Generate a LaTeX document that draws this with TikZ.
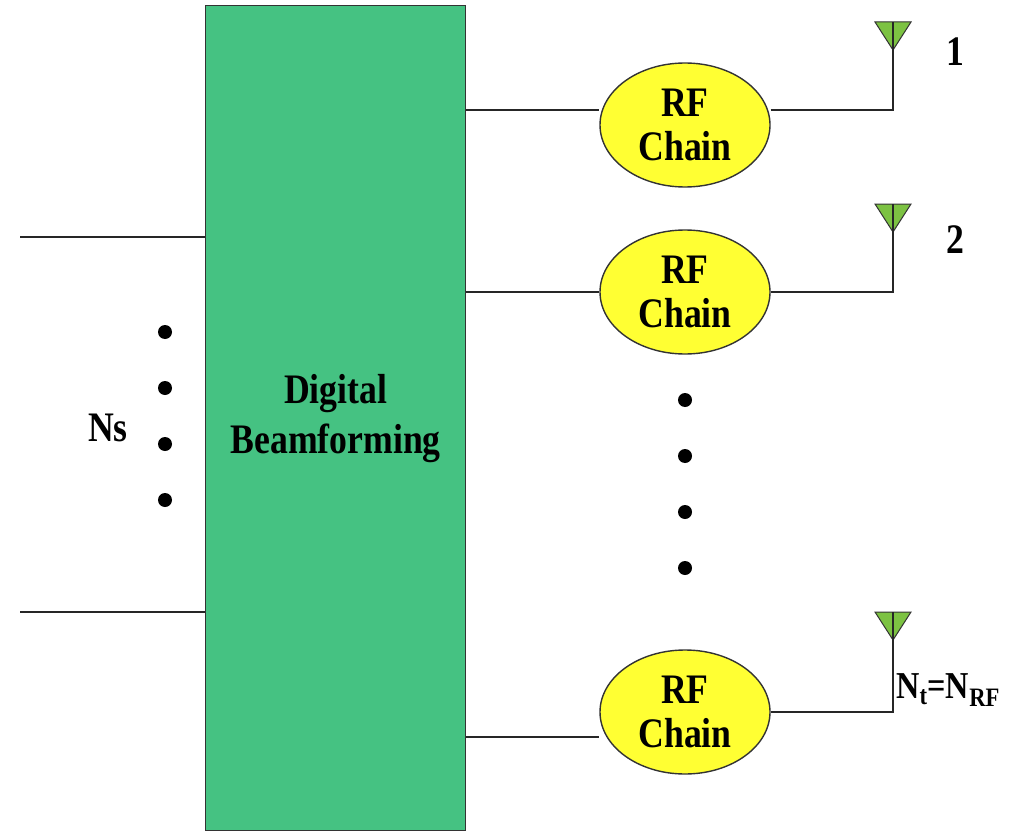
\documentclass[tikz,border=0pt]{standalone}
\usepackage{fontspec}
\setmainfont{Liberation Serif}[FakeStretch=0.85]
\usetikzlibrary{shapes.geometric}
\definecolor{bfgreen}{HTML}{45C282}
\definecolor{rfyellow}{HTML}{FFFF33}
\definecolor{antgreen}{HTML}{7CC242}
\begin{document}
\begin{tikzpicture}[x=1pt,y=-1pt,
  ln/.style={line width=2pt,black!85},
  rf/.style={ellipse,draw=black!80,line width=1.4pt,fill=rfyellow,minimum width=170pt,minimum height=124pt,inner sep=0pt,align=center,font=\bfseries\fontsize{42}{44}\selectfont},
  dot/.style={circle,fill=black,inner sep=0pt,minimum size=14pt},
  lbl/.style={font=\bfseries\fontsize{42}{44}\selectfont,inner sep=0pt}]
\useasboundingbox (0,0) rectangle (1035,837);
\node[draw=black!80,line width=1.4pt,fill=bfgreen,minimum width=260pt,minimum height=825pt,inner sep=0pt,anchor=north west,align=center,font=\bfseries\fontsize{42}{50}\selectfont] (bf) at (205,5) {Digital\\Beamforming};
\coordinate (in1) at (20,237); \coordinate (in2) at (20,612);
\draw[ln] (in1) -- (bf.west |- in1);
\draw[ln] (in2) -- (bf.west |- in2);
\foreach \y/\n in {332/a,388/b,444/c,500/d} \node[dot] (l\n) at (165,\y) {};
\node[lbl] (ns) at (108,428) {Ns};
\node[rf] (rf1) at (685,125) {RF\\Chain};
\node[rf] (rf2) at (685,292) {RF\\Chain};
\node[rf] (rf3) at (685,712) {RF\\Chain};
\foreach \y/\n in {400/a,456/b,512/c,568/d} \node[dot] (r\n) at (685,\y) {};
\draw[ln] (bf.east |- 0,110) -- (rf1.west |- 0,110);
\draw[ln] (bf.east |- 0,292) -- (rf2.west);
\draw[ln] (bf.east |- 0,737) -- (rf3.west |- 0,737);
\foreach \i/\ya/\yb/\yt in {1/110/50/22,2/292/232/204,3/712/640/612}{
  \coordinate (c\i) at (893,\ya);
  \coordinate (t\i) at (893,\yb);
  \fill[antgreen,draw=black!80,line width=1pt] (875,\yt) -- (911,\yt) -- (t\i) -- cycle;
  \draw[ln] (rf\i.east |- c\i) -- (c\i) -- (893,\yt);
}
\node[lbl] (n1) at (955,52) {1};
\node[lbl] (n2) at (955,240) {2};
\node[lbl,anchor=west,font=\bfseries\fontsize{38}{40}\selectfont] (n3) at (896,690) {N\textsubscript{t}=N\textsubscript{RF}};
\end{tikzpicture}
\end{document}
